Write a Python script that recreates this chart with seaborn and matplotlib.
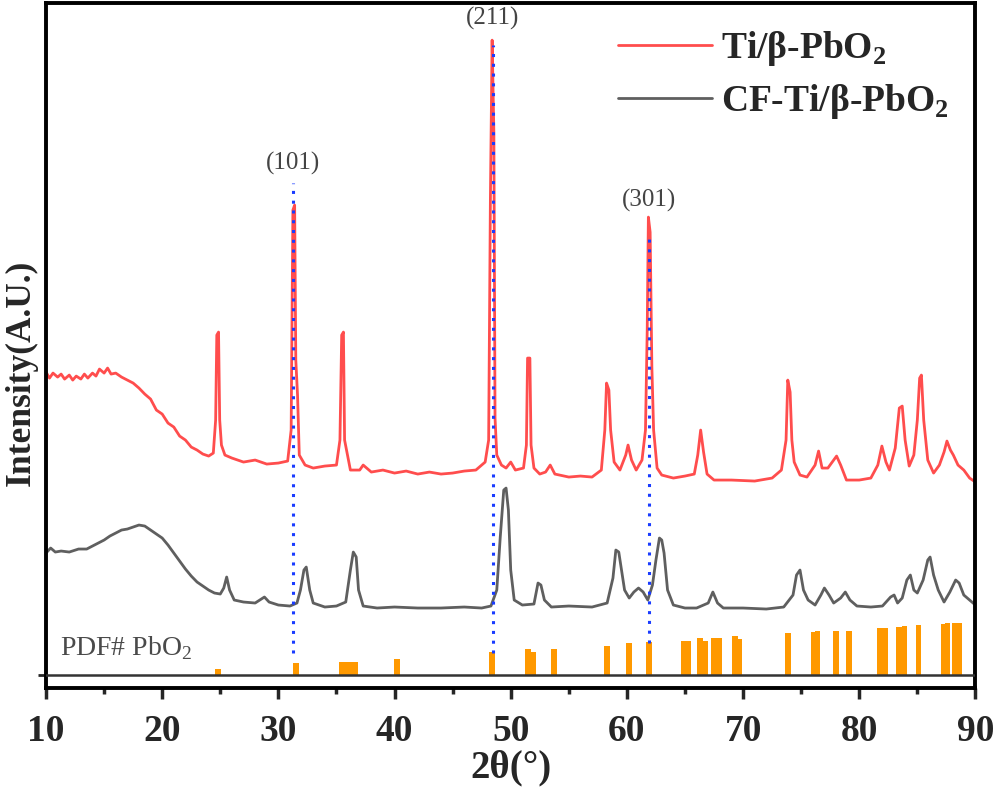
import numpy as np
import pandas as pd
import matplotlib
matplotlib.use("Agg")
import matplotlib.pyplot as plt
import seaborn as sns

# Ti/beta-PbO2 pattern (2theta, intensity a.u.)
ti_2theta = [10.0, 10.3, 10.6, 11.0, 11.3, 11.6, 12.0, 12.3, 12.6, 13.0, 13.3, 13.6, 14.0, 14.3,
             14.6, 15.0, 15.3, 15.6, 16.0, 16.5,
             17.0, 17.5, 18.0, 18.5, 19.0, 19.5, 20.0, 20.5, 21.0, 21.5, 22.0, 22.5, 23.0, 23.5,
             24.0, 24.4, 24.6, 24.7, 24.85, 24.95, 25.1, 25.4, 26.0, 27.0, 28.0, 29.0, 30.0, 30.8,
             31.1, 31.25, 31.4, 31.5, 31.65, 31.8, 32.3, 33.0, 34.0, 35.0, 35.3, 35.45, 35.6, 35.7,
             35.9, 36.2, 37.0, 37.3, 38.0, 39.0, 40.0, 41.0, 42.0, 43.0, 44.0, 45.0, 46.0, 47.0,
             47.8, 48.1, 48.25, 48.4, 48.55, 48.65, 48.8, 49.2, 49.6, 50.0, 50.4, 51.1, 51.35, 51.45,
             51.65, 51.75, 52.0, 52.5, 53.0, 53.4, 53.8, 55.0, 56.0, 57.0, 57.8, 58.1, 58.25, 58.45,
             58.6, 58.9, 59.4, 59.9, 60.1, 60.4, 60.8, 61.3, 61.6, 61.75, 61.85, 62.0, 62.15, 62.3,
             62.6, 63.0, 64.0, 65.0, 65.8, 66.1, 66.35, 66.6, 66.9, 67.5, 69.0, 71.0, 72.5, 73.3,
             73.7, 73.85, 74.05, 74.2, 74.4, 74.9, 75.5, 76.2, 76.5, 76.8, 77.3, 77.8, 78.05, 78.4,
             78.9, 80.0, 81.0, 81.6, 81.95, 82.3, 82.6, 83.1, 83.45, 83.7, 83.95, 84.3, 84.7, 85.0,
             85.2, 85.35, 85.55, 85.9, 86.4, 86.9, 87.3, 87.55, 87.85, 88.1, 88.5, 89.0, 89.5, 90.0]
ti_intensity = [303, 297, 302, 298, 301, 296, 300, 295, 299, 296, 301, 297, 302, 299,
                306, 302, 307, 301, 302, 298,
                295, 292, 287, 281, 276, 265, 261, 252, 248, 239, 235, 228, 225, 221,
                219, 222, 255, 340, 343, 255, 230, 220, 217, 213, 215, 211, 212, 214,
                245, 465, 470, 315, 280, 220, 210, 207, 209, 210, 235, 340, 343, 235,
                223, 205, 205, 210, 203, 205, 202, 204, 201, 203, 201, 202, 204, 205,
                213, 235, 475, 635, 542, 257, 220, 210, 207, 213, 205, 207, 230, 317,
                317, 230, 207, 201, 203, 210, 201, 198, 199, 198, 205, 245, 292, 285,
                245, 213, 205, 220, 230, 215, 205, 215, 245, 345, 458, 443, 308, 245,
                207, 200, 197, 199, 201, 220, 245, 223, 201, 195, 195, 194, 197, 205,
                235, 295, 283, 235, 213, 200, 198, 210, 224, 207, 207, 215, 219, 210,
                195, 195, 197, 210, 229, 213, 205, 227, 267, 269, 235, 209, 220, 255,
                297, 300, 255, 215, 202, 210, 223, 234, 225, 220, 210, 205, 197, 193]

# CF-Ti/beta-PbO2 pattern
cf_2theta = [10.0, 10.4, 10.8, 11.3, 12.0, 12.8, 13.5, 14.0, 14.5, 15.0, 15.5, 16.0, 16.5, 17.0,
             17.5, 18.0, 18.5, 19.0, 19.5, 20.0, 20.5, 21.0, 21.5, 22.0, 22.5, 23.0, 23.5, 24.0,
             24.5, 25.0, 25.3, 25.55, 25.8, 26.2, 27.0, 28.0, 28.8, 29.2, 30.0, 31.0, 31.6, 31.9,
             32.2, 32.4, 32.7, 33.0, 34.0, 35.0, 35.8, 36.2, 36.45, 36.7, 36.9, 37.3, 38.5, 40.0,
             42.0, 44.0, 46.0, 47.5, 48.3, 48.8, 49.1, 49.4, 49.6, 49.8, 50.0, 50.3, 51.0, 52.0,
             52.35, 52.6, 52.9, 53.5, 55.0, 57.0, 58.3, 58.8, 59.05, 59.3, 59.5, 59.8, 60.2, 60.6,
             61.0, 61.4, 61.8, 62.2, 62.5, 62.8, 63.0, 63.2, 63.5, 64.0, 65.0, 66.0, 67.0, 67.4,
             67.8, 68.3, 70.0, 72.0, 73.5, 74.3, 74.6, 74.9, 75.2, 75.6, 76.2, 76.7, 77.0, 77.4,
             77.8, 78.4, 78.8, 79.2, 79.8, 81.0, 82.0, 82.7, 83.0, 83.3, 83.7, 84.1, 84.4, 84.7,
             85.0, 85.5, 85.9, 86.1, 86.4, 86.8, 87.3, 87.8, 88.3, 88.6, 89.0, 89.5, 90.0]
cf_intensity = [122, 127, 123, 124, 123, 126, 126, 129, 132, 135, 139, 142, 145, 146,
                148, 150, 149, 145, 141, 137, 130, 122, 114, 106, 99, 93, 89, 85,
                82, 81, 87, 98, 85, 75, 73, 72, 78, 73, 70, 69, 72, 85,
                105, 108, 85, 72, 68, 69, 73, 105, 123, 118, 85, 69, 67, 68,
                67, 67, 68, 67, 69, 85, 138, 185, 187, 165, 105, 75, 70, 71,
                92, 90, 75, 68, 69, 68, 72, 97, 125, 123, 108, 85, 77, 83,
                87, 83, 75, 90, 115, 137, 135, 122, 85, 70, 67, 67, 72, 83,
                72, 67, 67, 66, 68, 80, 100, 105, 85, 75, 70, 80, 87, 80,
                72, 77, 83, 75, 69, 68, 69, 78, 80, 72, 77, 95, 100, 85,
                82, 95, 115, 118, 100, 85, 73, 83, 95, 92, 80, 75, 70]

# PDF# PbO2 reference lines
pdf_2theta = [24.8, 31.5, 35.5, 35.8, 36.2, 36.6, 40.2, 48.4, 51.5, 51.9, 53.7, 58.3, 60.2,
              61.9, 64.9, 65.3, 66.3, 66.7, 67.5, 67.9, 69.3, 69.7, 73.9, 76.1, 76.4, 78.0,
              79.1, 81.8, 82.2, 83.4, 83.9, 85.1, 87.3, 87.6, 88.2, 88.6]
pdf_height = [6, 12, 13, 13, 13, 13, 16, 23, 26, 23, 26, 29, 32,
              33, 34, 34, 37, 34, 37, 37, 39, 36, 42, 43, 44, 44,
              44, 47, 47, 48, 49, 50, 51, 52, 52, 52]

# indexed reflections
hkl_labels = ["(101)", "(211)", "(301)"]
hkl_2theta = [31.3, 48.45, 61.9]

df_ti = pd.DataFrame({"x": ti_2theta, "y": ti_intensity})
df_cf = pd.DataFrame({"x": cf_2theta, "y": cf_intensity})

sns.set_style("ticks")
plt.rcParams["font.family"] = ["Liberation Serif", "DejaVu Serif"]
plt.rcParams["mathtext.fontset"] = "custom"
plt.rcParams["mathtext.rm"] = "Liberation Serif"
plt.rcParams["mathtext.bf"] = "Liberation Serif:bold"

fig = plt.figure(figsize=(9.94, 7.89), dpi=100)
ax = fig.add_axes([0.0463, 0.128, 0.935, 0.868])

sns.lineplot(data=df_ti, x="x", y="y", ax=ax, color="#ff4d4d", lw=2.0,
             estimator=None, sort=False, label=r"Ti/β-PbO$_{\mathbf{2}}$")
sns.lineplot(data=df_cf, x="x", y="y", ax=ax, color="#5f5f5f", lw=2.0,
             estimator=None, sort=False, label=r"CF-Ti/β-PbO$_{\mathbf{2}}$")

ax.bar(pdf_2theta, pdf_height, width=0.5, color="#ff9900", linewidth=0,
       edgecolor="none", zorder=2)
ax.axhline(0, color="#333333", lw=1.8, zorder=3)

# dotted guide lines and hkl labels
line_tops = [492, 630, 442]
line_bottoms = [22, 22, 32]
label_y = [512, 657, 475]
for lab, pos, top, bot, ly in zip(hkl_labels, hkl_2theta, line_tops, line_bottoms, label_y):
    ax.plot([pos, pos], [bot, top], color="#1a3cff", lw=2.2, ls=(0, (1, 2.2)), zorder=4)
    ax.text(pos, ly, lab, ha="center", va="center", fontsize=18, color="#444444")

ax.text(11.2, 27, r"PDF# PbO$_2$", fontsize=20, color="#4a4a4a", va="center")

ax.set_xlim(10, 90)
ax.set_ylim(-13, 672)
ax.set_xticks(range(10, 91, 10))
ax.set_xticks(range(15, 90, 10), minor=True)
ax.set_yticks([0])
ax.set_yticklabels([])
ax.tick_params(axis="x", which="major", length=8, width=2.5, labelsize=27, pad=11)
ax.tick_params(axis="x", which="minor", length=4, width=2.5)
ax.tick_params(axis="y", length=6, width=2)
for t in ax.get_xticklabels():
    t.set_fontweight("bold")
for sp in ax.spines.values():
    sp.set_linewidth(2.8)
    sp.set_color("black")

ax.set_xlabel("2θ(°)", fontsize=28, fontweight="bold", labelpad=0)
ax.set_ylabel("Intensity(A.U.)", fontsize=25.5, fontweight="bold")
ax.yaxis.set_label_coords(-0.009, 0.46)

ax.legend(loc="upper right", bbox_to_anchor=(1.0, 1.0), frameon=False,
          prop={"size": 27, "weight": "bold"}, handlelength=2.5, handletextpad=0.25,
          labelspacing=0.36, borderaxespad=0.3)

fig.savefig("out.png", dpi=100)
